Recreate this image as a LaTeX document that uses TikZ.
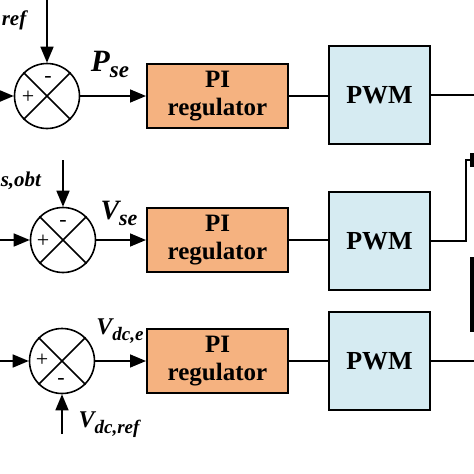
\documentclass[tikz,border=0pt]{standalone}
\usepackage{fontspec}
\setmainfont{Liberation Serif}
\usetikzlibrary{arrows.meta}
\definecolor{piorange}{RGB}{245,178,128}
\definecolor{pwmblue}{RGB}{214,235,242}
\newcommand\siglab[4]{{\fontsize{#3}{#3}\selectfont\bfseries\itshape #1}\raisebox{-6pt}{\fontsize{#4}{#4}\selectfont\bfseries\itshape #2}}
\begin{document}
\begin{tikzpicture}[x=1pt,y=-1pt,line width=1.6pt,
  pibox/.style={draw,fill=piorange,line width=2pt,minimum width=141pt,minimum height=64pt,align=center,font=\fontsize{25}{28}\selectfont\bfseries,inner sep=0pt},
  pwmbox/.style={draw,fill=pwmblue,line width=2pt,minimum width=101pt,minimum height=98pt,font=\fontsize{26}{26}\selectfont\bfseries,inner sep=0pt},
  sumj/.style={draw,circle,line width=1.6pt,minimum size=65pt,inner sep=0pt},
  arr/.style={-{Triangle[length=16pt,width=13pt]}},
  sgn/.style={font=\fontsize{22}{22}\selectfont,inner sep=0pt},
  lab/.style={inner sep=0pt}]
\useasboundingbox (0,0) rectangle (474,474);
\clip (0,0) rectangle (474,474);
% summing junctions
\node[sumj] (s1) at (47,96) {};
\node[sumj] (s2) at (63,240) {};
\node[sumj] (s3) at (62,361) {};
\foreach \s in {s1,s2,s3}{
  \draw (\s.north west) -- (\s.south east);
  \draw (\s.north east) -- (\s.south west);
}
\node[sgn] (p1) at (28,97) {+};
\node[sgn] (m1) at (48,79) {-};
\node[sgn] (p2) at (43,241) {+};
\node[sgn] (m2) at (63,223) {-};
\node[sgn] (p3) at (42,360) {+};
\node[sgn] (m3) at (61,381) {-};
% PI boxes
\node[pibox] (pi1) at (217.5,96) {PI\\regulator};
\node[pibox] (pi2) at (217.5,240) {PI\\regulator};
\node[pibox] (pi3) at (217.5,361) {PI\\regulator};
% PWM boxes
\node[pwmbox] (pwm1) at (379.5,95) {PWM};
\node[pwmbox] (pwm2) at (379.5,241) {PWM};
\node[pwmbox] (pwm3) at (379.5,361) {PWM};
% inputs
\coordinate (i1) at (-5,96);
\coordinate (i2) at (-5,240);
\coordinate (i3) at (-5,361);
\coordinate (r1) at (47,-5);
\coordinate (r2) at (63,160);
\coordinate (r3) at (62,434);
\draw[arr] (i1) -- (s1.west);
\draw[arr] (i2) -- (s2.west);
\draw[arr] (i3) -- (s3.west);
\draw[arr] (r1) -- (s1.north);
\draw[arr] (r2) -- (s2.north);
\draw[arr] (r3) -- (s3.south);
% to PI
\draw[arr] (s1.east) -- (pi1.west);
\draw[arr] (s2.east) -- (pi2.west);
\draw[arr] (s3.east) -- (pi3.west);
% PI to PWM
\draw (pi1.east) -- (pi1.east -| pwm1.west);
\draw (pi2.east) -- (pi2.east -| pwm2.west);
\draw (pi3.east) -- (pi3.east -| pwm3.west);
% outputs
\coordinate (o1) at (480,95);
\coordinate (o3) at (480,360);
\coordinate (t2) at (471,160);
\draw (pwm1.east) -- (pwm1.east -| o1);
\draw (pwm3.east) -- (pwm3.east -| o3);
\draw (pwm2.east) -- ++(35,0) |- (t2);
\fill (470,153) rectangle (476,167);
\fill (470,257) rectangle (476,332);
% labels
\node[lab,anchor=west,font=\fontsize{21}{21}\selectfont\bfseries\itshape] (lr) at (1,20) {ref};
\node[lab,anchor=west,font=\fontsize{21}{21}\selectfont\bfseries\itshape] (lo) at (0,181) {s,obt};
\node[lab] (lpse) at (110,64) {\siglab{P}{se}{31}{23}};
\node[lab] (lvse) at (119,213) {\siglab{V}{se}{28}{22}};
\node[lab] (lvdce) at (120,331) {\siglab{V}{dc,e}{24}{19}};
\node[lab] (lvdcr) at (109,425) {\siglab{V}{dc,ref}{24}{19}};
\end{tikzpicture}
\end{document}
